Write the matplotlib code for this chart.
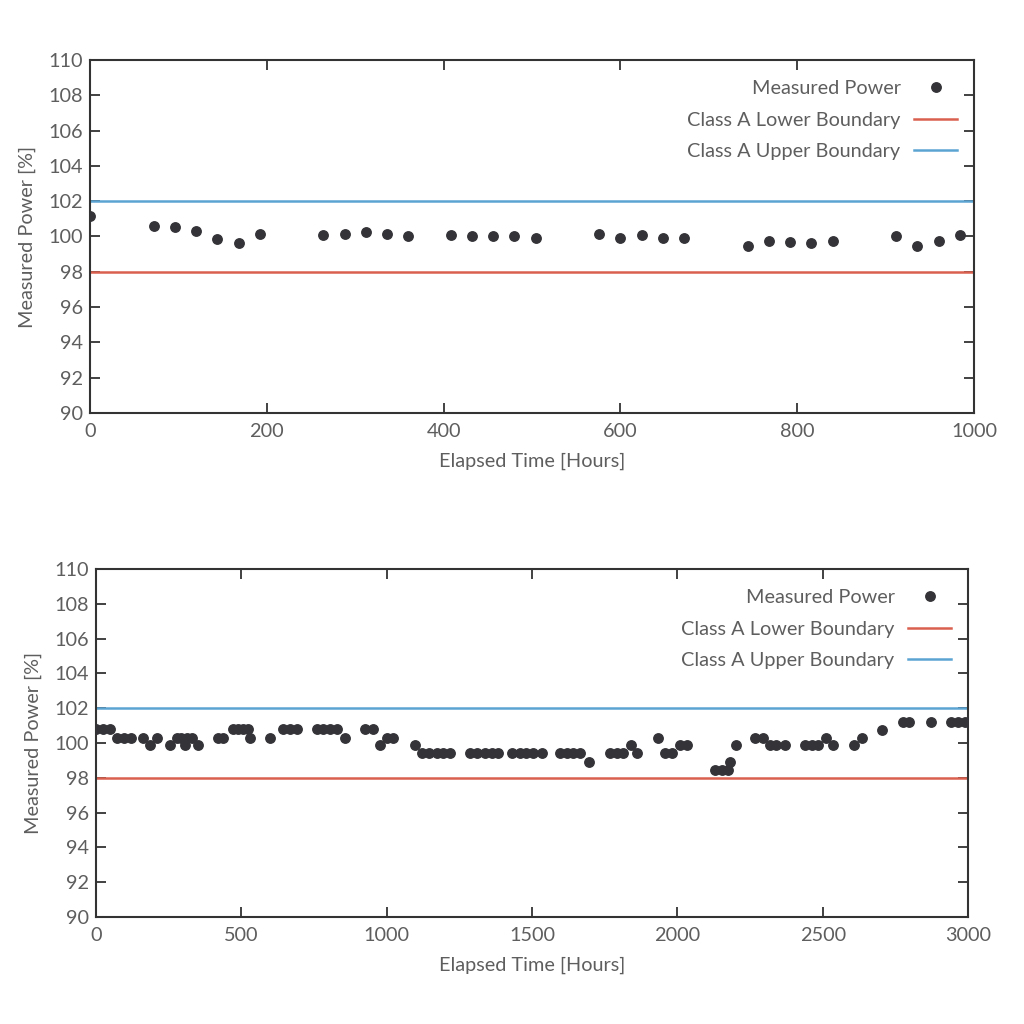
import matplotlib
matplotlib.use("Agg")
import matplotlib.pyplot as plt

plt.rcParams['font.family'] = ['Lato', 'DejaVu Sans']

# ---------------- data ----------------
top_hours = [0, 72, 96, 120, 144, 168, 192, 264, 288, 312, 336, 360, 408, 432, 456,
             480, 504, 576, 600, 624, 648, 672, 744, 768, 792, 816, 840, 912, 936, 960, 984]
top_power = [101.15, 100.58, 100.53, 100.3, 99.87, 99.64, 100.15, 100.06, 100.13, 100.27,
             100.13, 100.04, 100.06, 100.04, 100.0, 100.02, 99.89, 100.13, 99.92, 100.08,
             99.89, 99.91, 99.49, 99.73, 99.7, 99.66, 99.72, 100.04, 99.49, 99.77, 100.1]

bottom_hours = [0, 24, 48, 72, 96, 120, 163, 186, 209, 255, 277, 294, 306, 312, 329, 352,
                421, 438, 472, 490, 507, 524, 530, 599, 644, 667, 690, 759, 782, 805, 828, 857,
                925, 954, 977, 1000, 1023, 1097, 1120, 1147, 1172, 1195, 1218,
                1287, 1312, 1338, 1361, 1384, 1430, 1459, 1481, 1504, 1533,
                1596, 1619, 1642, 1665, 1697, 1768, 1791, 1814, 1839, 1862,
                1934, 1957, 1980, 2009, 2032, 2129, 2152, 2175, 2181, 2201,
                2267, 2295, 2318, 2341, 2370, 2439, 2462, 2485, 2511, 2536,
                2607, 2634, 2705, 2775, 2798, 2872, 2943, 2966, 2989]
bottom_power = [100.8, 100.8, 100.8, 100.3, 100.3, 100.3, 100.3, 99.9, 100.3, 99.9, 100.3, 100.3,
                99.9, 100.3, 100.3, 99.9,
                100.3, 100.3, 100.8, 100.8, 100.8, 100.8, 100.3, 100.3, 100.8, 100.8, 100.8,
                100.8, 100.8, 100.8, 100.8, 100.3,
                100.8, 100.8, 99.9, 100.3, 100.3, 99.9, 99.4, 99.4, 99.4, 99.4, 99.4,
                99.4, 99.4, 99.4, 99.4, 99.4, 99.4, 99.4, 99.4, 99.4, 99.4,
                99.4, 99.4, 99.4, 99.4, 98.9, 99.4, 99.4, 99.4, 99.9, 99.4,
                100.3, 99.4, 99.4, 99.9, 99.9, 98.45, 98.45, 98.45, 98.9, 99.9,
                100.3, 100.3, 99.9, 99.9, 99.9, 99.9, 99.9, 99.9, 100.3, 99.9,
                99.9, 100.3, 100.75, 101.2, 101.2, 101.2, 101.2, 101.2, 101.2]

lower_boundary = 98
upper_boundary = 102
y_ticks = [90, 92, 94, 96, 98, 100, 102, 104, 106, 108, 110]
top_xticks = [0, 200, 400, 600, 800, 1000]
bottom_xticks = [0, 500, 1000, 1500, 2000, 2500, 3000]
labels = ["Measured Power", "Class A Lower Boundary", "Class A Upper Boundary"]
xlabel = "Elapsed Time [Hours]"
ylabel = "Measured Power [%]"

# ---------------- style ----------------
TXT = "#5e5e5e"
SPINE = "#333333"
DOT = "#333338"
RED = "#d9604e"
BLUE = "#5ba4d2"
FS = 14.3

fig = plt.figure(figsize=(10.24, 10.24), dpi=100)
ax1 = fig.add_axes([90/1024, 1-413/1024, 884/1024, 353/1024])
ax2 = fig.add_axes([96/1024, 1-917/1024, 872/1024, 348/1024])


def draw(ax, hours, power, xmax, xticks):
    ax.plot(hours, power, 'o', color=DOT, markersize=6.8, label=labels[0], zorder=3)
    ax.axhline(lower_boundary, color=RED, lw=1.8, label=labels[1], zorder=2)
    ax.axhline(upper_boundary, color=BLUE, lw=1.8, label=labels[2], zorder=2)
    ax.set_xlim(0, xmax)
    ax.set_ylim(90, 110)
    ax.set_yticks(y_ticks)
    ax.set_xticks(xticks)
    ax.tick_params(direction='in', length=7, width=1.3, colors=SPINE,
                   labelcolor=TXT, labelsize=FS, top=True, right=True)
    ax.tick_params(axis='x', pad=7)
    ax.tick_params(axis='y', pad=5)
    for s in ax.spines.values():
        s.set_color(SPINE)
        s.set_linewidth(1.5)
    ax.set_xlabel(xlabel, color=TXT, fontsize=FS, labelpad=9)
    ax.set_ylabel(ylabel, color=TXT, fontsize=FS, labelpad=9)
    leg = ax.legend(loc='upper right', bbox_to_anchor=(1.0, 0.99), frameon=False,
                    markerfirst=False, fontsize=FS, handlelength=2.15, handletextpad=0.7,
                    labelspacing=0.72, borderaxespad=0.45)
    for t in leg.get_texts():
        t.set_color(TXT)


draw(ax1, top_hours, top_power, 1000, top_xticks)
draw(ax2, bottom_hours, bottom_power, 3000, bottom_xticks)

fig.savefig("out.png", dpi=100, facecolor="white")
